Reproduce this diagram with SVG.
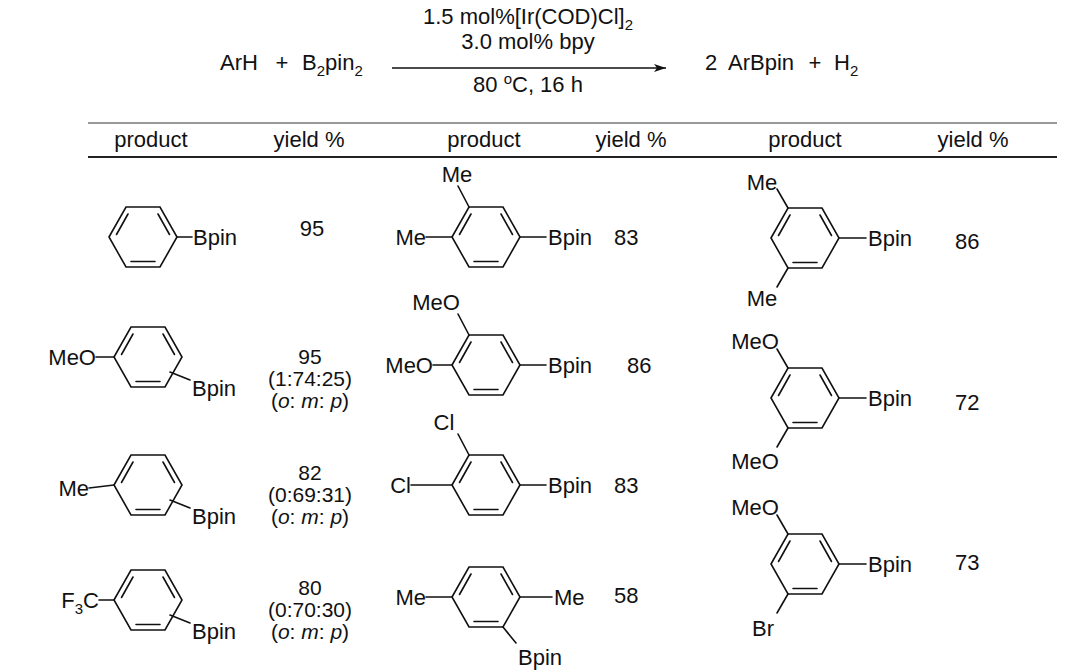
<svg xmlns="http://www.w3.org/2000/svg" width="1080" height="672" viewBox="0 0 1080 672">
<style>
text{font-family:"Liberation Sans",Arial,sans-serif;font-size:22px;fill:#111}
.m{text-anchor:middle}.e{text-anchor:end}
.y{font-size:21px}
.b{stroke:#111;stroke-width:1.6;fill:none;stroke-linecap:round}
.s{font-size:15px}
</style>
<defs>
<marker id="ah" viewBox="0 0 12 8" refX="12" refY="4" markerWidth="12" markerHeight="8" markerUnits="userSpaceOnUse" orient="auto"><path d="M0,0 L12,4 L0,8 L3,4 Z" fill="#111"/></marker>
<g id="ring">
<polygon class="b" points="-34,0 -17,-30 17,-30 34,0 17,30 -17,30"/>
<path class="b" d="M-26.5,-2.5 L-15,-23 M26.5,-2.5 L15,-23 M-12,24.5 L12,24.5"/>
</g>
</defs>
<g id="header">
<text x="220" y="70">ArH</text>
<text class="m" x="282" y="70">+</text>
<text x="302" y="70">B<tspan class="s" dy="6">2</tspan><tspan dy="-6">pin</tspan><tspan class="s" dy="6">2</tspan></text>
<text class="m" x="528" y="24">1.5 mol%[Ir(COD)Cl]<tspan class="s" dy="6">2</tspan></text>
<text class="m" x="528" y="49">3.0 mol% bpy</text>
<text class="m" x="528" y="92">80 <tspan class="s" dy="-8">o</tspan><tspan dy="8">C, 16 h</tspan></text>
<text x="705" y="70">2</text>
<text x="728" y="70">ArBpin</text>
<text class="m" x="815" y="70">+</text>
<text x="834" y="70">H<tspan class="s" dy="6">2</tspan></text>
</g>
<g id="connectors">
<line x1="392" y1="68" x2="666" y2="68" stroke="#111" stroke-width="1.5" marker-end="url(#ah)"/>
</g>
<g id="table">
<line x1="88" y1="123" x2="1057" y2="123" stroke="#777" stroke-width="1.5"/>
<line x1="88" y1="157" x2="1057" y2="157" stroke="#222" stroke-width="2"/>
<text class="m" x="151" y="147">product</text><text class="m" x="309" y="147">yield %</text>
<text class="m" x="484" y="147">product</text><text class="m" x="631" y="147">yield %</text>
<text class="m" x="805" y="147">product</text><text class="m" x="973" y="147">yield %</text>
</g>
<g id="c1r1">
<use href="#ring" x="143" y="237"/>
<line class="b" x1="177" y1="237" x2="192" y2="237"/>
<text x="193" y="245">Bpin</text>
<text class="m" x="312" y="236">95</text>
</g>
<g id="c1r2">
<use href="#ring" x="148" y="357"/>
<line class="b" x1="96" y1="357" x2="114" y2="357"/>
<text class="e" x="96" y="365">MeO</text>
<line class="b" x1="170" y1="372" x2="190" y2="380"/>
<text x="192" y="396">Bpin</text>
<text class="m y" x="310" y="364">95</text>
<text class="m y" x="310" y="386">(1:74:25)</text>
<text class="m y" x="310" y="408">(<tspan font-style="italic">o</tspan>: <tspan font-style="italic">m</tspan>: <tspan font-style="italic">p</tspan>)</text>
</g>
<g id="c1r3">
<use href="#ring" x="148" y="485"/>
<line class="b" x1="89" y1="488" x2="114" y2="485"/>
<text class="e" x="89" y="496">Me</text>
<line class="b" x1="170" y1="500" x2="190" y2="508"/>
<text x="192" y="524">Bpin</text>
<text class="m y" x="310" y="480">82</text>
<text class="m y" x="310" y="502">(0:69:31)</text>
<text class="m y" x="310" y="524">(<tspan font-style="italic">o</tspan>: <tspan font-style="italic">m</tspan>: <tspan font-style="italic">p</tspan>)</text>
</g>
<g id="c1r4">
<use href="#ring" x="148" y="600"/>
<line class="b" x1="99" y1="600" x2="114" y2="600"/>
<text class="e" x="99" y="608">F<tspan class="s" dy="6">3</tspan><tspan dy="-6">C</tspan></text>
<line class="b" x1="170" y1="615" x2="190" y2="623"/>
<text x="192" y="639">Bpin</text>
<text class="m y" x="310" y="595">80</text>
<text class="m y" x="310" y="617">(0:70:30)</text>
<text class="m y" x="310" y="639">(<tspan font-style="italic">o</tspan>: <tspan font-style="italic">m</tspan>: <tspan font-style="italic">p</tspan>)</text>
</g>
<g id="c2r1">
<use href="#ring" x="486" y="237"/>
<line class="b" x1="426" y1="237" x2="452" y2="237"/>
<text class="e" x="426" y="245">Me</text>
<line class="b" x1="469" y1="207" x2="458" y2="186"/>
<text class="m" x="457" y="182">Me</text>
<line class="b" x1="520" y1="237" x2="546" y2="237"/>
<text x="548" y="245">Bpin</text>
<text x="614" y="245">83</text>
</g>
<g id="c2r2">
<use href="#ring" x="486" y="365"/>
<line class="b" x1="433" y1="365" x2="452" y2="365"/>
<text class="e" x="433" y="373">MeO</text>
<line class="b" x1="469" y1="335" x2="458" y2="314"/>
<text class="m" x="436" y="310">MeO</text>
<line class="b" x1="520" y1="365" x2="546" y2="365"/>
<text x="548" y="373">Bpin</text>
<text x="627" y="373">86</text>
</g>
<g id="c2r3">
<use href="#ring" x="486" y="485"/>
<line class="b" x1="411" y1="485" x2="452" y2="485"/>
<text class="e" x="411" y="493">Cl</text>
<line class="b" x1="469" y1="455" x2="458" y2="434"/>
<text class="m" x="444" y="430">Cl</text>
<line class="b" x1="520" y1="485" x2="546" y2="485"/>
<text x="548" y="493">Bpin</text>
<text x="614" y="493">83</text>
</g>
<g id="c2r4">
<use href="#ring" x="486" y="597"/>
<line class="b" x1="426" y1="597" x2="452" y2="597"/>
<text class="e" x="426" y="605">Me</text>
<line class="b" x1="520" y1="597" x2="552" y2="597"/>
<text x="554" y="605">Me</text>
<line class="b" x1="503" y1="627" x2="516" y2="643"/>
<text class="m" x="540" y="665">Bpin</text>
<text x="614" y="603">58</text>
</g>
<g id="c3r1">
<use href="#ring" x="805" y="238"/>
<line class="b" x1="788" y1="208" x2="777" y2="189"/>
<text class="m" x="762" y="190">Me</text>
<line class="b" x1="788" y1="268" x2="777" y2="287"/>
<text class="m" x="762" y="306">Me</text>
<line class="b" x1="839" y1="238" x2="866" y2="238"/>
<text x="868" y="246">Bpin</text>
<text x="955" y="249">86</text>
</g>
<g id="c3r2">
<use href="#ring" x="805" y="398"/>
<line class="b" x1="788" y1="368" x2="777" y2="349"/>
<text class="m" x="755" y="349">MeO</text>
<line class="b" x1="788" y1="428" x2="777" y2="447"/>
<text class="m" x="755" y="469">MeO</text>
<line class="b" x1="839" y1="398" x2="866" y2="398"/>
<text x="868" y="406">Bpin</text>
<text x="955" y="410">72</text>
</g>
<g id="c3r3">
<use href="#ring" x="805" y="564"/>
<line class="b" x1="788" y1="534" x2="777" y2="515"/>
<text class="m" x="755" y="515">MeO</text>
<line class="b" x1="788" y1="594" x2="777" y2="613"/>
<text class="m" x="763" y="636">Br</text>
<line class="b" x1="839" y1="564" x2="866" y2="564"/>
<text x="868" y="572">Bpin</text>
<text x="955" y="570">73</text>
</g>
</svg>
